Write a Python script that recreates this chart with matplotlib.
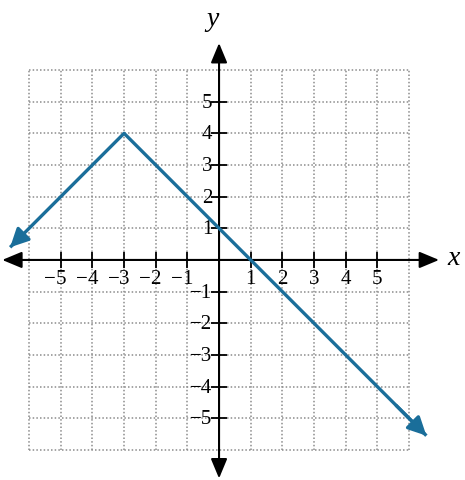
import matplotlib.pyplot as plt

# данные графика
ticks = [-5, -4, -3, -2, -1, 1, 2, 3, 4, 5]
grid_vals = list(range(-6, 7))
line_x = [-6.6, -3, 6.55]
line_y = [0.4, 4, -5.55]

blue = '#1a6e9a'
plt.rcParams['font.family'] = ['Liberation Serif', 'DejaVu Serif']

fig = plt.figure(figsize=(4.65, 4.8), dpi=100)
ax = fig.add_axes([0, 0, 1, 1])
ax.set_xlim(-6.92, 7.77)
ax.set_ylim(-6.95, 8.21)
ax.axis('off')

# пунктирная сетка
for g in grid_vals:
    ax.plot([g, g], [-6, 6], color='#8c8c8c', lw=1.1, ls=(0, (1, 1.4)), zorder=1)
    ax.plot([-6, 6], [g, g], color='#8c8c8c', lw=1.1, ls=(0, (1, 1.4)), zorder=1)

# оси со стрелками
ax.annotate('', xy=(6.95, 0), xytext=(-6.85, 0),
            arrowprops=dict(arrowstyle='<|-|>,head_length=0.6,head_width=0.25',
                            color='black', lw=1.5,
                            mutation_scale=20, shrinkA=0, shrinkB=0), zorder=3)
ax.annotate('', xy=(0, 6.85), xytext=(0, -6.9),
            arrowprops=dict(arrowstyle='<|-|>,head_length=0.6,head_width=0.25',
                            color='black', lw=1.5,
                            mutation_scale=20, shrinkA=0, shrinkB=0), zorder=3)

# засечки
ax.plot(ticks, [0] * len(ticks), ls='none', marker='|', ms=11, mew=1.3, color='black', zorder=3)
ax.plot([0] * len(ticks), ticks, ls='none', marker='_', ms=11, mew=1.3, color='black', zorder=3)

# подписи: цифра под засечкой, минус слева от неё
fs = 15
for t in ticks:
    digit = str(abs(t))
    ax.text(t, -0.33, digit, ha='center', va='top', fontsize=fs, zorder=4)
    if t < 0:
        ax.text(t - 0.15, -0.33, '\u2212', ha='right', va='top', fontsize=fs, zorder=4)
    lab = str(t).replace('-', '\u2212')
    ax.text(-0.22, t - 0.05, lab, ha='right', va='center', fontsize=fs, zorder=4)

ax.text(7.2, 0.05, 'x', fontsize=20, style='italic', ha='left', va='center')
ax.text(-0.2, 7.6, 'y', fontsize=20, style='italic', ha='center', va='center')

# ломаная линия со стрелками на концах
ax.plot(line_x, line_y, color=blue, lw=2.4, zorder=5, solid_capstyle='butt')
for i0, i1 in [(1, 0), (1, 2)]:
    ax.annotate('', xy=(line_x[i1], line_y[i1]),
                xytext=(line_x[i1] + (line_x[i0] - line_x[i1]) * 0.1,
                        line_y[i1] + (line_y[i0] - line_y[i1]) * 0.1),
                arrowprops=dict(arrowstyle='-|>,head_length=0.5,head_width=0.25',
                                color=blue, lw=2.4,
                                mutation_scale=22, shrinkA=0, shrinkB=0), zorder=6)

fig.savefig('out.png', dpi=100)
